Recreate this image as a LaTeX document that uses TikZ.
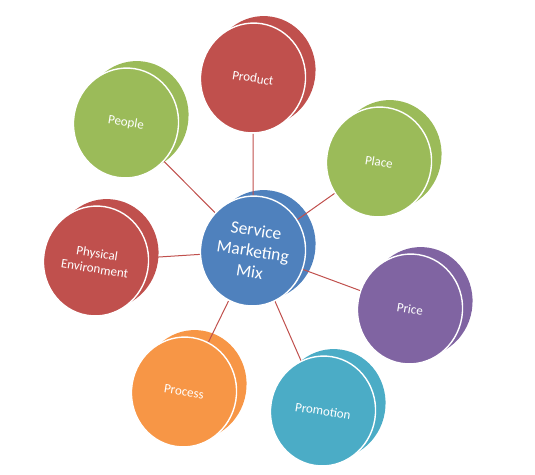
\documentclass[tikz,border=0pt]{standalone}
\usepackage{fontspec}
\setmainfont{Carlito}
\usetikzlibrary{shapes.geometric}
\definecolor{discred}{HTML}{C0504D}
\definecolor{discgreen}{HTML}{9BBB59}
\definecolor{discblue}{HTML}{4F81BD}
\definecolor{discpurple}{HTML}{8064A2}
\definecolor{discteal}{HTML}{4BACC6}
\definecolor{discorange}{HTML}{F79646}
\pgfdeclarelayer{rear}
\pgfdeclarelayer{links}
\pgfsetlayers{rear,links,main}

\begin{document}
\begin{tikzpicture}
[x=1pt,y=-1pt,
frontdisc/.style={ellipse,draw=white,line width=1.4pt,minimum width=105pt,minimum height=110pt,inner sep=0pt,rotate=-9,text=white,align=center,font=\fontsize{13}{15.5}\selectfont},
reardisc/.style={ellipse,minimum width=105pt,minimum height=110pt,inner sep=0pt,rotate=-9},
redline/.style={discred,line width=1pt}]

\useasboundingbox (0,0) rectangle (535,474);

% Service Marketing Mix
\begin{pgfonlayer}{rear}
\node[reardisc,fill=discblue](mixrear) at (263,245){};
\end{pgfonlayer}
\node[frontdisc,fill=discblue,font=\fontsize{17.5}{21}\selectfont](mix) at (253,251){Service\\Marketing\\Mix};

% Product
\begin{pgfonlayer}{rear}
\node[reardisc,fill=discred](productrear) at (263,71){};
\end{pgfonlayer}
\node[frontdisc,fill=discred](product) at (253,78){Product};

% People
\begin{pgfonlayer}{rear}
\node[reardisc,fill=discgreen](peoplerear) at (136,116){};
\end{pgfonlayer}
\node[frontdisc,fill=discgreen](people) at (126,123){People};

% Place
\begin{pgfonlayer}{rear}
\node[reardisc,fill=discgreen](placerear) at (389,155){};
\end{pgfonlayer}
\node[frontdisc,fill=discgreen](place) at (379,162){Place};

% Physical Environment
\begin{pgfonlayer}{rear}
\node[reardisc,fill=discred](physicalrear) at (106,254){};
\end{pgfonlayer}
\node[frontdisc,fill=discred](physical) at (96,261){Physical\\Environment};

% Price
\begin{pgfonlayer}{rear}
\node[reardisc,fill=discpurple](pricerear) at (420,302){};
\end{pgfonlayer}
\node[frontdisc,fill=discpurple](price) at (410,309){Price};

% Process
\begin{pgfonlayer}{rear}
\node[reardisc,fill=discorange](processrear) at (194,385){};
\end{pgfonlayer}
\node[frontdisc,fill=discorange](process) at (184,392){Process};

% Promotion
\begin{pgfonlayer}{rear}
\node[reardisc,fill=discteal](promotionrear) at (333,404){};
\end{pgfonlayer}
\node[frontdisc,fill=discteal](promotion) at (323,411){Promotion};

% connectors
\begin{pgfonlayer}{links}
\draw[redline] (mix) -- (product);
\draw[redline] (mix) -- (people);
\draw[redline] (mix) -- (place);
\draw[redline] (mix) -- (physical);
\draw[redline] (mix) -- (price);
\draw[redline] (mix) -- (process);
\draw[redline] (mix) -- (promotion);
\end{pgfonlayer}

\end{tikzpicture}
\end{document}
